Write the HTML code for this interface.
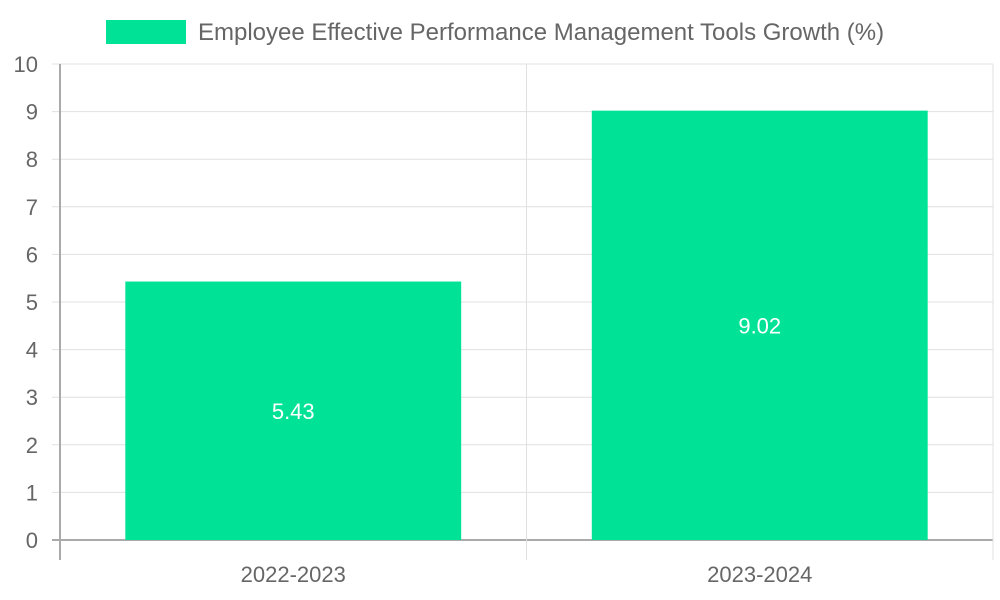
<!DOCTYPE html>
<html><head><meta charset="utf-8"><style>
html,body{margin:0;padding:0;background:#fff;}
svg{display:block;font-family:"Liberation Sans",sans-serif;}
</style></head><body>
<svg id="chart" width="1000" height="600" viewBox="0 0 1000 600">
<g id="grid"></g>
<g id="bars"></g>
<g id="axes"></g>
<g>
<rect x="106" y="20" width="80" height="24" fill="#00e396"/>
<text x="198" y="40" font-size="24" fill="#666">Employee Effective Performance Management Tools Growth (%)</text>
</g>
</svg>
<script>
const categories = ["2022-2023", "2023-2024"];
const values = [5.43, 9.02];
const yTicks = [0,1,2,3,4,5,6,7,8,9,10];
const NS = "http://www.w3.org/2000/svg";
const x0 = 60, x1 = 993, yTop = 64, yBot = 540, yMax = 10;
const y = v => yBot - (yBot - yTop) * v / yMax;
const bandW = (x1 - x0) / categories.length;
const xc = i => x0 + bandW * (i + 0.5);
function mk(tag, attrs, parent) {
  const e = document.createElementNS(NS, tag);
  for (const k in attrs) e.setAttribute(k, attrs[k]);
  parent.appendChild(e);
  return e;
}
const grid = document.getElementById("grid"), bars = document.getElementById("bars"), axes = document.getElementById("axes");
yTicks.forEach(t => {
  const l = mk("line", {x1: x0 - 8, x2: x1, y1: y(t), y2: y(t), stroke: t === 0 ? "#aaa" : "#e0e0e0", "stroke-width": t === 0 ? 2 : 1}, grid);
  
  
  const tx = mk("text", {x: 38, y: y(t) + 8, "text-anchor": "end", "font-size": 22, fill: "#666"}, axes);
  tx.textContent = t;
  
  
});
for (let i = 0; i <= categories.length; i++) {
  const gx = x0 + bandW * i;
  const l = mk("line", {x1: gx, x2: gx, y1: yTop, y2: yBot + 20, stroke: i === 0 ? "#aaa" : "#e0e0e0", "stroke-width": i === 0 ? 2 : 1}, grid);
  
  
}
categories.forEach((c, i) => {
  const bw = bandW * 0.72;
  const r = mk("rect", {x: xc(i) - bw / 2, y: y(values[i]), width: bw, height: yBot - y(values[i]), fill: "#00e396"}, bars);
  
  
  const vt = mk("text", {x: xc(i), y: (y(values[i]) + yBot) / 2 + 8, "text-anchor": "middle", "font-size": 22, fill: "#fff"}, bars);
  vt.textContent = values[i];
  
  
  const ct = mk("text", {x: xc(i), y: 582, "text-anchor": "middle", "font-size": 22, fill: "#666"}, axes);
  ct.textContent = c;
  
  
});
</script>
</body></html>
